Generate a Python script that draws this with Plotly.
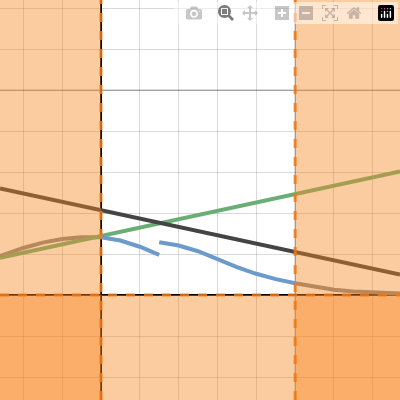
import plotly.graph_objects as go

# lines (in graph units)
line_x = [-2.6, 7.7]
dark_y = [2.07 + 0.204 * 2.6, 2.07 - 0.204 * 7.7]
green_y = [1.44 - 0.205 * 2.6, 1.44 + 0.205 * 7.7]

# gray curve, outside the window
gray_left_x = [-2.6, -2, -1.5, -1, -0.5, 0]
gray_left_y = [0.95, 1.15, 1.28, 1.37, 1.41, 1.41]
gray_right_x = [5, 5.5, 6, 6.5, 7, 7.7]
gray_right_y = [0.29, 0.2, 0.13, 0.09, 0.06, 0.04]

# blue pieces inside
blue1_x = [0, 0.5, 1, 1.5]
blue1_y = [1.41, 1.33, 1.18, 0.98]
blue2_x = [1.5, 2, 2.5, 3, 3.5, 4, 4.5, 5]
blue2_y = [1.29, 1.21, 1.07, 0.88, 0.68, 0.52, 0.39, 0.29]

X0, X1 = -2.6, 7.7
Y0, Y1 = -2.56, 7.2
orange = "rgba(247,134,32,0.42)"

fig = go.Figure()
fig.add_trace(go.Scatter(x=gray_left_x, y=gray_left_y, mode="lines", line=dict(color="#8a8a8a", width=4)))
fig.add_trace(go.Scatter(x=gray_right_x, y=gray_right_y, mode="lines", line=dict(color="#8a8a8a", width=4)))
fig.add_trace(go.Scatter(x=line_x, y=green_y, mode="lines", line=dict(color="#6aae76", width=4)))
fig.add_trace(go.Scatter(x=line_x, y=dark_y, mode="lines", line=dict(color="#444444", width=4)))
fig.add_trace(go.Scatter(x=blue1_x, y=blue1_y, mode="lines", line=dict(color="#6a9bcb", width=4)))
fig.add_trace(go.Scatter(x=blue2_x, y=blue2_y, mode="lines", line=dict(color="#6a9bcb", width=4)))

shapes = []
# major grid
shapes.append(dict(type="line", x0=X0, x1=X1, y0=5, y1=5, line=dict(color="rgba(0,0,0,0.4)", width=1), layer="below"))
shapes.append(dict(type="line", x0=5, x1=5, y0=Y0, y1=Y1, line=dict(color="rgba(0,0,0,0.4)", width=1), layer="below"))
# shaded regions
for r in [(X0, 0, Y0, Y1), (5, X1, Y0, Y1), (X0, X1, Y0, 0)]:
    shapes.append(dict(type="rect", x0=r[0], x1=r[1], y0=r[2], y1=r[3], fillcolor=orange, line=dict(width=0), layer="above"))
# dashed boundaries
dash = dict(color="rgba(240,120,20,0.85)", width=3, dash="dash")
shapes.append(dict(type="line", x0=0, x1=0, y0=Y0, y1=Y1, line=dash, layer="above"))
shapes.append(dict(type="line", x0=5, x1=5, y0=Y0, y1=Y1, line=dash, layer="above"))
shapes.append(dict(type="line", x0=X0, x1=X1, y0=0, y1=0, line=dash, layer="above"))

axis = dict(showticklabels=False, ticks="", dtick=1, gridcolor="rgba(0,0,0,0.15)", gridwidth=1,
            zeroline=True, zerolinecolor="black", zerolinewidth=2, showline=False)
fig.update_layout(
    width=400, height=400, margin=dict(l=0, r=0, t=0, b=0),
    plot_bgcolor="white", paper_bgcolor="white", showlegend=False,
    xaxis=dict(axis, range=[X0, X1], tick0=0),
    yaxis=dict(axis, range=[Y0, Y1], tick0=0),
    shapes=shapes,
)
fig.write_html("out.html", post_script="document.body.style.margin='0';")
